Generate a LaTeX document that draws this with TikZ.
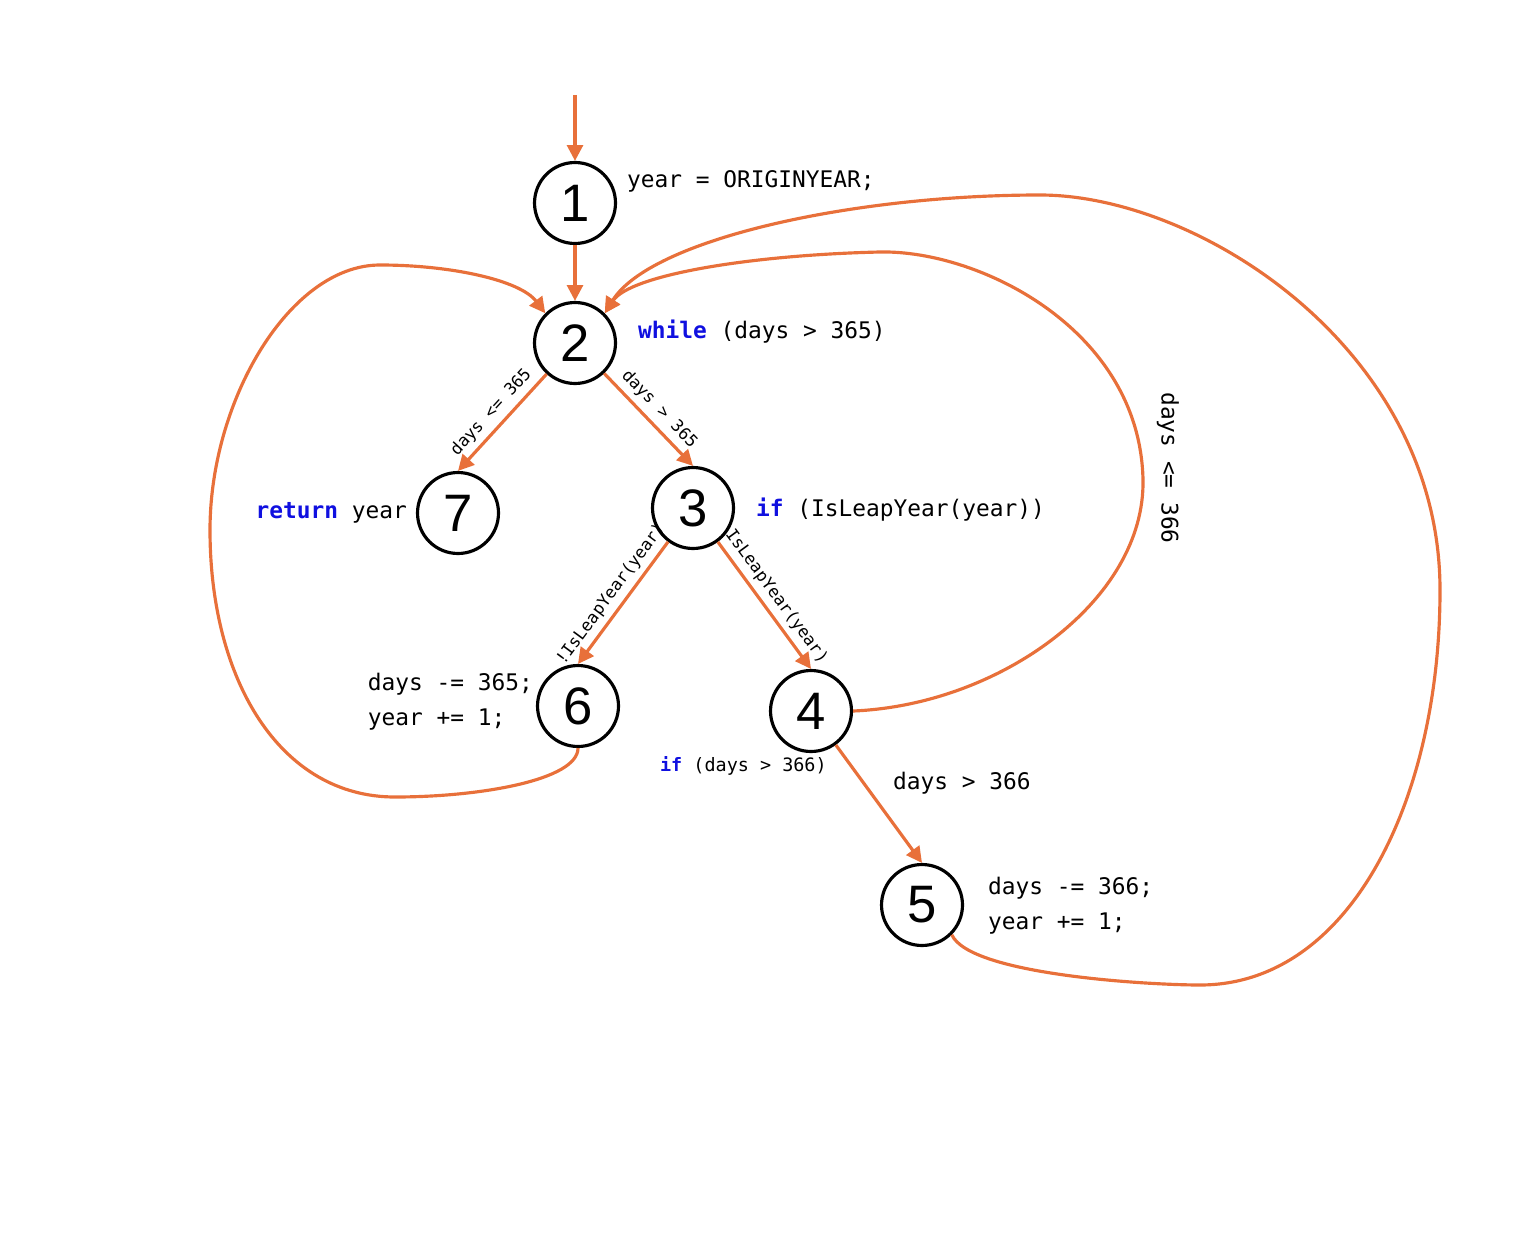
\documentclass[tikz,border=0pt]{standalone}
\usepackage{fontspec}
\setmainfont{Liberation Sans}
\setmonofont{DejaVu Sans Mono}
\usetikzlibrary{arrows.meta}
\definecolor{edge}{HTML}{E8703A}
\definecolor{kw}{HTML}{1010E0}
\newcommand{\kwd}[1]{\textcolor{kw}{\bfseries #1}}
\tikzset{
  x=0.02cm,y=-0.02cm,
  st/.style={circle,draw=black,line width=1.8pt,minimum size=1.62cm,inner sep=0pt,font=\fontsize{30}{32}\selectfont},
  ed/.style={draw=edge,line width=1.8pt,-{Triangle[length=9pt,width=9pt]}},
  code/.style={font=\ttfamily\fontsize{13}{20}\selectfont,inner sep=1pt,align=left},
  el/.style={font=\ttfamily\fontsize{9.5}{10}\selectfont,sloped,above,inner sep=3pt}
}
\begin{document}
\begin{tikzpicture}
\useasboundingbox (0,0) rectangle (1527,1240);
\node[st] (n1) at (575,203) {1};
\node[st] (n2) at (575,343) {2};
\node[st] (n7) at (458,513) {7};
\node[st] (n3) at (693,508) {3};
\node[st] (n6) at (578,706) {6};
\node[st] (n4) at (811,711) {4};
\node[st] (n5) at (922,905) {5};
\coordinate (start) at (575,95);

\draw[ed] (start) -- (n1);
\draw[ed] (n1) -- (n2);
\draw[ed] (n2) -- node[el] {days <= 365} (n7.north);
\draw[ed] (n2) -- node[el] {days > 365} (n3.north);
\draw[ed] (n3) -- node[el] {!IsLeapYear(year)} (n6.north);
\draw[ed] (n3) -- node[el] {IsLeapYear(year)} (n4.north);
\draw[ed] (n4) -- (n5.north);

\draw[ed] (n4.east) .. controls (1000,705) and (1145,600) .. (1143,480)
  .. controls (1140,330) and (980,250) .. (880,252)
  .. controls (750,255) and (630,275) .. (n2.north east);
\draw[ed] (n5.south east) .. controls (970,975) and (1150,985) .. (1200,985)
  .. controls (1350,985) and (1440,800) .. (1440,590)
  .. controls (1440,350) and (1200,195) .. (1040,195)
  .. controls (850,195) and (650,240) .. (n2.north east);
\draw[ed] (n6.south) .. controls (578,780) and (480,797) .. (395,797)
  .. controls (280,797) and (210,680) .. (210,530)
  .. controls (210,400) and (290,265) .. (380,265)
  .. controls (450,265) and (520,280) .. (n2.north west);

\node[code,anchor=west] (t1) at (625,181) {year = ORIGINYEAR;};
\node[code,anchor=west] (t2) at (636,332) {\kwd{while} (days > 365)};
\node[code,anchor=east] (t7) at (409,513) {\kwd{return} year};
\node[code,anchor=west] (t3) at (754,510) {\kwd{if} (IsLeapYear(year))};
\node[code,anchor=east] (t6) at (535,702) {days -= 365;\\year += 1;};
\node[code,anchor=west,font=\ttfamily\fontsize{10.5}{12}\selectfont] (t4) at (658,766) {\kwd{if} (days > 366)};
\node[code,anchor=west] (t45) at (891,783) {days > 366};
\node[code,anchor=west] (t5) at (986,906) {days -= 366;\\year += 1;};
\node[code,rotate=-90] (t42) at (1168,468) {days <= 366};
\end{tikzpicture}
\end{document}
